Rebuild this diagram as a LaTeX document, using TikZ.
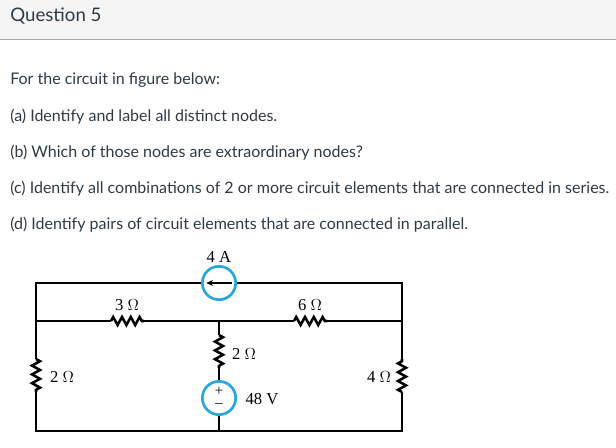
\documentclass[tikz,border=0pt]{standalone}
\usepackage{fontspec}
\setmainfont{Liberation Serif}
\newfontfamily\lato{Lato}
\usetikzlibrary{decorations.pathmorphing,arrows.meta}
\definecolor{src}{HTML}{2AA6DE}
\definecolor{txt}{HTML}{2D3B45}
\tikzset{
  wire/.style={line width=1.9pt,black},
  res/.style={wire,decorate,decoration={zigzag,segment length=6.6pt,amplitude=3pt}},
  srcc/.style={circle,draw=src,line width=2pt,minimum size=25pt,inner sep=0pt,fill=white},
  lbl/.style={font=\fontsize{12.5}{14}\selectfont,inner sep=0pt},
  q/.style={font=\lato\fontsize{12}{14}\selectfont,text=txt,anchor=west,inner sep=0pt}
}
\begin{document}
\begin{tikzpicture}[x=0.75pt,y=-0.75pt]
\useasboundingbox (0,0) rectangle (616,447);
\fill[gray!8] (0,0) rectangle (616,39);
\draw[gray!70,line width=0.75pt] (0,39.5) -- (616,39.5);
\node[q,font=\lato\fontsize{14}{16}\selectfont] (title) at (10,16) {Question 5};
\node[q] (l0) at (10,80) {For the circuit in figure below:};
\node[q] (l1) at (10,117) {(a) Identify and label all distinct nodes.};
\node[q] (l2) at (10,153) {(b) Which of those nodes are extraordinary nodes?};
\node[q] (l3) at (10,189) {(c) Identify all combinations of 2 or more circuit elements that are connected in series.};
\node[q] (l4) at (10,225) {(d) Identify pairs of circuit elements that are connected in parallel.};
% coordinates
\coordinate (TL) at (36,283); \coordinate (TR) at (402,283);
\coordinate (ML) at (36,321); \coordinate (MR) at (402,321); \coordinate (MC) at (219,321);
\coordinate (BL) at (36,431); \coordinate (BR) at (402,431); \coordinate (BC) at (219,431);
\coordinate (r3a) at (111,321); \coordinate (r3b) at (144,321);
\coordinate (r6a) at (294,321); \coordinate (r6b) at (327,321);
\coordinate (rma) at (219,335); \coordinate (rmb) at (219,368);
\coordinate (rla) at (36,359); \coordinate (rlb) at (36,392);
\coordinate (rra) at (402,359); \coordinate (rrb) at (402,392);
% wires
\draw[wire,line join=miter] (ML) -- (TL) -- (TR) -- (MR);
\draw[wire] (ML) -- (r3a); \draw[res] (r3a) -- (r3b); \draw[wire] (r3b) -- (r6a);
\draw[res] (r6a) -- (r6b); \draw[wire] (r6b) -- (MR);
\draw[wire] (MC) -- (rma); \draw[res] (rma) -- (rmb); \draw[wire] (rmb) -- (BC);
\draw[wire] (ML) -- (rla); \draw[res] (rla) -- (rlb);
\draw[wire,line join=miter] (rlb) -- (BL) -- (BR) -- (rrb);
\draw[res] (rrb) -- (rra); \draw[wire] (rra) -- (MR);
% sources
\node[srcc] (cs) at (219,283) {};
\draw[line width=1.1pt,-{Stealth[length=5pt,width=4.5pt]}] ([xshift=-4pt]cs.east) -- ([xshift=4pt]cs.west);
\node[srcc] (vs) at (219,398) {};
\node[lbl,font=\fontsize{11}{12}\selectfont] (plus) at (219,391) {+};
\node[lbl,font=\fontsize{11}{12}\selectfont] (minus) at (219,406) {\textendash};
% labels
\node[lbl] (la) at (219,257) {4 A};
\node[lbl] (l3o) at (127,305) {3 $\Omega$};
\node[lbl] (l6o) at (310,305) {6 $\Omega$};
\node[lbl] (l2m) at (244,354) {2 $\Omega$};
\node[lbl] (l2l) at (62,377) {2 $\Omega$};
\node[lbl] (l4r) at (379,377) {4 $\Omega$};
\node[lbl] (l48) at (262,399) {48 V};
\end{tikzpicture}
\end{document}
